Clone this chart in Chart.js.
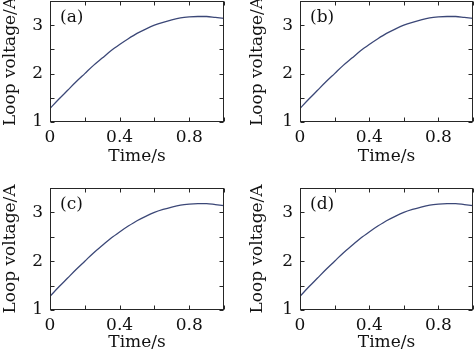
<!DOCTYPE html>
<html>
<head>
<meta charset="utf-8">
<script src="https://cdn.jsdelivr.net/npm/chart.js@4.4.1/dist/chart.umd.min.js"></script>
<style>
  html, body { margin: 0; padding: 0; background: #fff; }
  #wrap { position: relative; width: 474px; height: 353px; overflow: hidden; }
  #wrap canvas { position: absolute; }
</style>
</head>
<body>
<div id="wrap">
  <canvas id="panelA" width="237" height="176" style="left:0;top:0"></canvas>
  <canvas id="panelB" width="237" height="176" style="left:237px;top:0"></canvas>
  <canvas id="panelC" width="237" height="177" style="left:0;top:176px"></canvas>
  <canvas id="panelD" width="237" height="177" style="left:237px;top:176px"></canvas>
</div>
<script>
// values
const times = [0, 0.05, 0.1, 0.15, 0.2, 0.25, 0.3, 0.35, 0.4, 0.45, 0.5,
               0.55, 0.6, 0.65, 0.7, 0.75, 0.8, 0.85, 0.9, 0.95, 1.0];
const loopVoltage = [1.28, 1.47, 1.65, 1.83, 2.00, 2.17, 2.32, 2.47, 2.60, 2.72, 2.83,
                     2.92, 3.00, 3.06, 3.11, 3.15, 3.17, 3.18, 3.18, 3.16, 3.14];
const panelTags = ['(a)', '(b)', '(c)', '(d)'];
const xTickLabels = ['0', '0.4', '0.8'];
const yTickLabels = ['1', '2', '3'];

const serif = '"DejaVu Serif", "Liberation Serif", serif';
Chart.defaults.font.family = serif;
Chart.defaults.color = '#111';

// MATLAB style box with inward ticks, plus the panel tag
const boxTicks = {
  id: 'boxTicks',
  afterDatasetsDraw(chart, args, opts) {
    const {ctx, chartArea: a, scales: {x, y}} = chart;
    const L = Math.round(a.left) + 0.5, R = Math.round(a.right) - 0.5;
    const T = Math.round(a.top) + 0.5, B = Math.round(a.bottom) - 0.5;
    ctx.save();
    ctx.strokeStyle = '#262626';
    ctx.lineWidth = 1;
    ctx.strokeRect(L, T, R - L, B - T);
    ctx.beginPath();
    x.ticks.forEach(t => {
      const px = Math.round(x.getPixelForValue(t.value)) + 0.5;
      ctx.moveTo(px, B); ctx.lineTo(px, B - 4);
      ctx.moveTo(px, T); ctx.lineTo(px, T + 4);
    });
    y.ticks.forEach(t => {
      const py = Math.round(y.getPixelForValue(t.value)) + 0.5;
      ctx.moveTo(L, py); ctx.lineTo(L + 4, py);
      ctx.moveTo(R, py); ctx.lineTo(R - 4, py);
    });
    ctx.stroke();
    ctx.fillStyle = '#111';
    ctx.font = '17px ' + serif;
    ctx.textBaseline = 'middle';
    ctx.fillText(opts.tag, a.left + 10, a.top + 17);
    ctx.restore();
  }
};

function makePanel(id, tag, isRight, isBottom) {
  const yWidth = isRight ? 63 : 50;
  const xHeight = isBottom ? 43 : 54;
  new Chart(document.getElementById(id), {
    type: 'line',
    data: {
      datasets: [{
        data: times.map((t, i) => ({x: t, y: loopVoltage[i]})),
        borderColor: '#3b4777',
        borderWidth: 1.3,
        pointRadius: 0,
        fill: false,
        cubicInterpolationMode: 'monotone'
      }]
    },
    plugins: [boxTicks],
    options: {
      responsive: false,
      animation: false,
      layout: {padding: {top: isBottom ? 12 : 1, right: isRight ? 1 : 13, left: 0, bottom: 0}},
      plugins: {
        legend: {display: false},
        tooltip: {enabled: false},
        boxTicks: {tag: tag}
      },
      scales: {
        x: {
          type: 'linear',
          min: 0, max: 1,
          grid: {display: false, drawTicks: false},
          border: {display: false},
          afterFit(s) { s.height = xHeight; s.paddingLeft = 0; s.paddingRight = 0; },
          ticks: {
            stepSize: 0.2,
            autoSkip: false,
            maxRotation: 0,
            padding: 5,
            font: {size: 17},
            callback: v => {
              const s = String(+v.toFixed(1));
              return xTickLabels.includes(s) ? s : '';
            }
          },
          title: {display: true, text: 'Time/s', font: {size: 17},
                  padding: {top: 0, bottom: isBottom ? 0 : 9}}
        },
        y: {
          min: 1, max: 3.5,
          grid: {display: false, drawTicks: false},
          border: {display: false},
          afterFit(s) { s.width = yWidth; s.paddingTop = 0; s.paddingBottom = 0; },
          ticks: {
            stepSize: 0.5,
            padding: 7,
            font: {size: 17},
            callback: v => {
              const s = String(+v.toFixed(1));
              return yTickLabels.includes(s) ? s : '';
            }
          },
          title: {display: true, text: 'Loop voltage/A', font: {size: 17},
                  padding: {top: isRight ? 10 : 0, bottom: 0}}
        }
      }
    }
  });
}

makePanel('panelA', panelTags[0], false, false);
makePanel('panelB', panelTags[1], true, false);
makePanel('panelC', panelTags[2], false, true);
makePanel('panelD', panelTags[3], true, true);
</script>
</body>
</html>
